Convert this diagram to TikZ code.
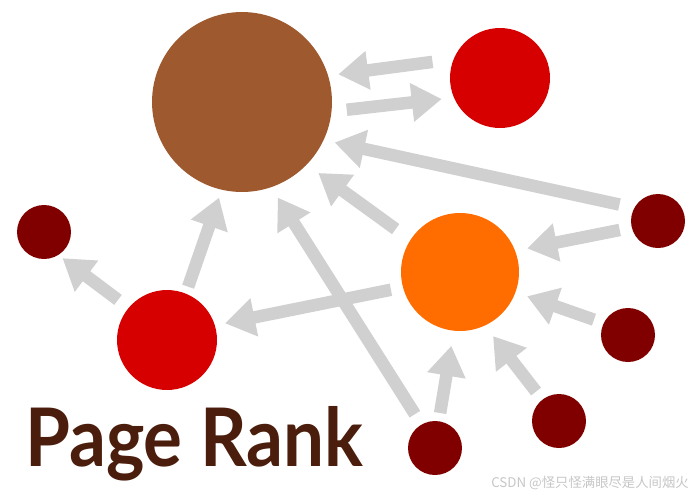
\documentclass[tikz,border=0pt]{standalone}
\usepackage{fontspec}
\usepackage{tikz}
\usetikzlibrary{arrows.meta,positioning,calc}
\newfontfamily\titlefont{Lato}
\newfontfamily\cjkfont{Noto Sans CJK SC}
\definecolor{pagebrown}{HTML}{9E5A2E}
\definecolor{pagered}{HTML}{D60000}
\definecolor{pageorange}{HTML}{FF6C00}
\definecolor{pagedark}{HTML}{800000}
\definecolor{linkgray}{HTML}{D0D0D0}
\definecolor{titlebrown}{HTML}{4B1D0C}
\tikzstyle{page} = [circle, inner sep=0pt, draw=none]
\tikzstyle{leaf} = [page, fill=pagedark, minimum size=1.08cm]
\tikzstyle{link} = [draw=linkgray, line width=0.25cm,
-{Triangle[length=0.6cm,width=0.74cm]}]

\begin{document}
\begin{tikzpicture}[x=0.02cm, y=-0.02cm]
	\useasboundingbox (0,0) rectangle (700,495);
	\node [page, fill=pagebrown, minimum size=3.6cm] (BigPage) at (242,102) {};
	\node [page, fill=pagered, minimum size=2cm] (TopPage) at (500,78) {};
	\node [page, fill=pageorange, minimum size=2.36cm] (MidPage) at (460,272) {};
	\node [page, fill=pagered, minimum size=2cm] (LeftPage) at (167,340) {};
	\node [leaf] (LeafLeft) at (44,232) {};
	\node [leaf] (LeafRight) at (658,221) {};
	\node [leaf] (LeafRightLow) at (628,335) {};
	\node [leaf] (LeafBottomRight) at (559,421) {};
	\node [leaf] (LeafBottom) at (435,448) {};
	\node [anchor=base west, inner sep=0pt, text=titlebrown, xscale=0.9]
		(Title) at (25,466) {\titlefont\bfseries\fontsize{46}{50}\selectfont Page Rank};
	\node [text=gray!45, inner sep=0pt] (Watermark) at (590,483)
		{\cjkfont\fontsize{7.6}{9}\selectfont CSDN @怪只怪满眼尽是人间烟火};
	
	\draw [link, shorten <=0.42cm, shorten >=0.2cm] (TopPage.158) -- (BigPage.17);
	\draw [link, shorten <=0.3cm, shorten >=0.24cm] (BigPage.-6) -- (TopPage.203);
	\draw [link, shorten <=0.3cm, shorten >=0.22cm] (LeafRight.151) -- (BigPage.-25.5);
	\draw [link, shorten <=0.36cm, shorten >=0.28cm] (MidPage.147.6) -- (BigPage.-44);
	\draw [link, shorten <=0.24cm, shorten >=0.24cm] (LeafRight.194) -- (MidPage.21.6);
	\draw [link, shorten <=0.14cm, shorten >=0.16cm] (LeftPage.68) -- (BigPage.257);
	\draw [link, shorten <=0.24cm, shorten >=0.24cm] (LeafBottom.120.7) -- (BigPage.-71.3);
	\draw [link, shorten <=0.26cm, shorten >=0.1cm] (LeftPage.140) -- (LeafLeft.-58.6);
	\draw [link, shorten <=0.24cm, shorten >=0.2cm] (MidPage.195.3) -- (LeftPage.17.5);
	\draw [link, shorten <=0.2cm, shorten >=0.24cm] (LeafRightLow.154.4) -- (MidPage.-20.7);
	\draw [link, shorten <=0.2cm, shorten >=0.26cm] (LeafBottomRight.128.7) -- (MidPage.-65);
	\draw [link, shorten <=0.16cm, shorten >=0.3cm] (LeafBottom.82) -- (MidPage.-96.5);
	
\end{tikzpicture}
\end{document}
